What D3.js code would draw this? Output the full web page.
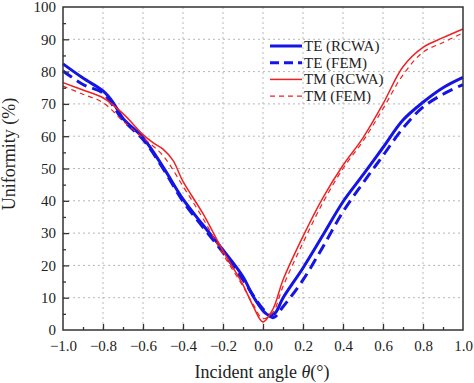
<!DOCTYPE html>
<html>
<head>
<meta charset="utf-8">
<script src="https://cdn.jsdelivr.net/npm/d3@7"></script>
</head>
<body style="margin:0; background:#fff; font-family:'Liberation Serif','Times New Roman';">
<script>
// incident angle samples for each curve
var teRcwaX = [-1.0, -0.9, -0.8, -0.75, -0.7, -0.6, -0.5, -0.4, -0.3, -0.2, -0.1, -0.05, 0.0, 0.03, 0.06, 0.1, 0.2, 0.3, 0.4, 0.5, 0.6, 0.7, 0.8, 0.9, 1.0];
var teRcwaY = [82.4, 78.0, 74.0, 70.5, 65.5, 59.5, 50.5, 40.5, 32.5, 24.8, 16.5, 10.5, 6.0, 4.6, 5.2, 9.9, 19.2, 29.4, 39.7, 48.0, 56.5, 65.0, 70.5, 75.0, 78.2];

var teFemX = [-1.0, -0.9, -0.8, -0.7, -0.6, -0.5, -0.4, -0.3, -0.2, -0.1, 0.0, 0.05, 0.1, 0.2, 0.3, 0.4, 0.5, 0.6, 0.7, 0.8, 0.9, 1.0];
var teFemY = [80.2, 76.0, 73.3, 65.0, 59.0, 50.0, 39.8, 31.8, 24.0, 15.5, 6.5, 3.8, 7.2, 15.5, 25.8, 36.6, 45.5, 54.0, 62.5, 69.0, 73.0, 76.0];

var tmRcwaX = [-1.0, -0.9, -0.8, -0.7, -0.6, -0.55, -0.5, -0.45, -0.4, -0.3, -0.2, -0.1, -0.05, 0.0, 0.05, 0.1, 0.2, 0.3, 0.4, 0.5, 0.6, 0.7, 0.8, 0.9, 1.0];
var tmRcwaY = [76.6, 74.3, 71.9, 67.0, 60.5, 58.0, 56.0, 52.5, 46.0, 36.0, 24.5, 14.0, 7.5, 2.5, 6.5, 15.5, 29.0, 41.0, 51.0, 59.5, 70.0, 81.5, 87.5, 90.5, 93.2];

var tmFemX = [-1.0, -0.9, -0.8, -0.7, -0.6, -0.5, -0.4, -0.3, -0.2, -0.1, -0.05, 0.0, 0.05, 0.1, 0.2, 0.3, 0.4, 0.5, 0.6, 0.7, 0.8, 0.9, 1.0];
var tmFemY = [75.5, 73.0, 70.4, 64.7, 59.5, 54.0, 44.5, 34.5, 23.5, 13.5, 8.0, 3.5, 5.5, 13.5, 27.0, 39.5, 50.0, 58.5, 68.5, 79.0, 86.0, 89.0, 92.0];

var seriesNames = ["TE (RCWA)", "TE (FEM)", "TM (RCWA)", "TM (FEM)"];
var xTicks = [-1.0, -0.8, -0.6, -0.4, -0.2, 0.0, 0.2, 0.4, 0.6, 0.8, 1.0];
var yTicks = [0, 10, 20, 30, 40, 50, 60, 70, 80, 90, 100];

var fontName = "'Liberation Serif'";
var width = 474, height = 383;
var margin = {top: 7, right: 11, bottom: 53, left: 63};
var w = width - margin.left - margin.right;
var h = height - margin.top - margin.bottom;

var svg = d3.select("body").append("svg")
  .attr("width", width)
  .attr("height", height);

var g = svg.append("g")
  .attr("transform", "translate(" + margin.left + "," + margin.top + ")");

var x = d3.scaleLinear().domain([-1, 1]).range([0, w]);
var y = d3.scaleLinear().domain([0, 100]).range([h, 0]);

// dotted grid
g.append("g").selectAll("line")
  .data(xTicks.slice(1, -1))
  .join("line")
  .attr("x1", d => x(d)).attr("x2", d => x(d))
  .attr("y1", 0).attr("y2", h)
  .attr("stroke", "#b8b8b8").attr("stroke-dasharray", "2,3");

g.append("g").selectAll("line")
  .data(yTicks.slice(1, -1))
  .join("line")
  .attr("y1", d => y(d)).attr("y2", d => y(d))
  .attr("x1", 0).attr("x2", w)
  .attr("stroke", "#b8b8b8").attr("stroke-dasharray", "2,3");

// curves
var series = [
  {xs: teRcwaX, ys: teRcwaY, color: "#1414e6", width: 3, dash: null},
  {xs: teFemX, ys: teFemY, color: "#1414e6", width: 3, dash: "11,6"},
  {xs: tmRcwaX, ys: tmRcwaY, color: "#ee2222", width: 1.5, dash: null},
  {xs: tmFemX, ys: tmFemY, color: "#ee2222", width: 1.2, dash: "5,4"}
];

var line = d3.line()
  .x(d => x(d[0]))
  .y(d => y(d[1]))
  .curve(d3.curveCatmullRom.alpha(0.5));

var plot = g.append("g");
series.forEach(function (s) {
  plot.append("path")
    .datum(d3.zip(s.xs, s.ys))
    .attr("d", line)
    .attr("fill", "none")
    .attr("stroke", s.color)
    .attr("stroke-width", s.width)
    .attr("stroke-dasharray", s.dash);
});

// axes with inward ticks
var xAxis = g.append("g")
  .attr("transform", "translate(0," + h + ")")
  .call(d3.axisBottom(x).tickValues(xTicks).tickFormat(d3.format(".1f")).tickSize(-6).tickPadding(10));
xAxis.selectAll("g.tick").filter(d => d === -1 || d === 1).select("line").remove();

var xMinor = g.append("g")
  .attr("transform", "translate(0," + h + ")")
  .call(d3.axisBottom(x).tickValues(d3.range(-0.9, 1, 0.2)).tickFormat("").tickSize(-3));

var yAxis = g.append("g")
  .call(d3.axisLeft(y).tickValues(yTicks).tickSize(-6).tickPadding(7));
yAxis.selectAll("g.tick").filter(d => d === 0 || d === 100).select("line").remove();

var yMinor = g.append("g")
  .call(d3.axisLeft(y).tickValues(d3.range(5, 100, 10)).tickFormat("").tickSize(-3));

[xAxis, yAxis, xMinor, yMinor].forEach(function (a) {
  a.attr("font-family", null).attr("font-size", 15);
  a.select(".domain").remove();
});
g.selectAll(".tick line").attr("stroke", "#333").attr("stroke-width", 1.3);

// frame
g.append("rect")
  .attr("width", w).attr("height", h)
  .attr("fill", "none")
  .attr("stroke", "#333")
  .attr("stroke-width", 1.5);

// titles
var xt = svg.append("text")
  .attr("x", 262)
  .attr("y", 378)
  .attr("text-anchor", "middle")
  .attr("font-size", 18);
xt.append("tspan").text("Incident angle ");
xt.append("tspan").attr("font-style", "italic").text("θ");
xt.append("tspan").text("(°)");

svg.append("text")
  .attr("transform", "translate(15,154) rotate(-90)")
  .attr("text-anchor", "middle")
  .attr("font-size", 18)
  .text("Uniformity (%)");

// legend
var legend = svg.append("g");
series.forEach(function (s, i) {
  var ly = 46 + i * 16.7;
  legend.append("line")
    .attr("x1", 270).attr("x2", 302)
    .attr("y1", ly).attr("y2", ly)
    .attr("stroke", s.color)
    .attr("stroke-width", s.width)
    .attr("stroke-dasharray", s.dash ? (s.width > 2 ? "9,5" : s.dash) : null);
  legend.append("text")
    .attr("x", 304).attr("y", ly + 5)
    .attr("font-size", 15)
    .text(seriesNames[i]);
});

// every text in the chart uses the serif face
svg.selectAll("text").attr("font-family", fontName).attr("fill", "#222");
</script>
</body>
</html>
